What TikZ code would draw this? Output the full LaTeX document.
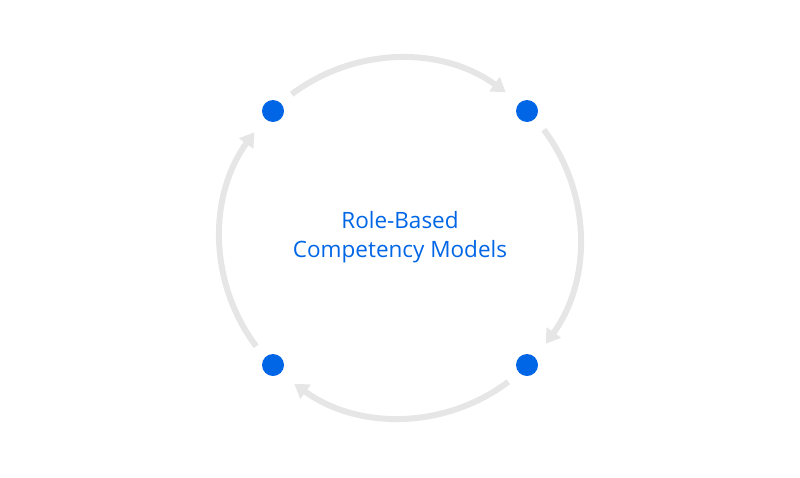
\documentclass[tikz,border=0pt]{standalone}
\usepackage{fontspec}
\setmainfont{Open Sans}
\usetikzlibrary{arrows.meta}
\definecolor{dotblue}{HTML}{0066E6}
\definecolor{arcgray}{HTML}{E6E6E6}
\begin{document}
\begin{tikzpicture}[x=1pt,y=-1pt,
  arcline/.style={draw=arcgray,line width=6pt,-{Triangle[length=14pt,width=17pt]}},
  dot/.style={circle,fill=dotblue,minimum size=22pt,inner sep=0pt}]
\useasboundingbox (0,0) rectangle (800,477);
\coordinate (c) at (400,238);
\node[dot] (d1) at (273,111) {};
\node[dot] (d2) at (527,111) {};
\node[dot] (d3) at (527,365) {};
\node[dot] (d4) at (273,365) {};
\draw[arcline] (c) ++(-127:180) arc[start angle=-127,end angle=-54,radius=180];
\draw[arcline] (c) ++(-37:180) arc[start angle=-37,end angle=36,radius=180];
\draw[arcline] (c) ++(53:180) arc[start angle=53,end angle=126,radius=180];
\draw[arcline] (c) ++(143:180) arc[start angle=143,end angle=216,radius=180];
\node[text=dotblue,font=\fontsize{22.5pt}{29pt}\selectfont,align=center] (t) at (400,237) {Role-Based\\Competency Models};
\end{tikzpicture}
\end{document}
